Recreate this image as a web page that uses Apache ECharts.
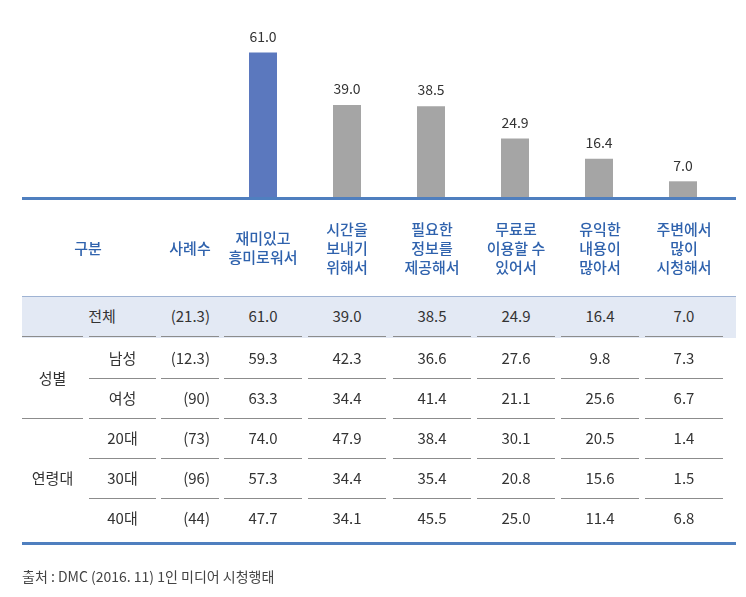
<!DOCTYPE html>
<html><head><meta charset="utf-8">
<script src="https://cdn.jsdelivr.net/npm/echarts@6/dist/echarts.min.js"></script>
<style>
body{margin:0;background:#fff;font-family:"Noto Sans CJK KR","Noto Sans",sans-serif;}
#c{position:absolute;left:0;top:0;width:746px;height:597px;}
.t{position:absolute;white-space:nowrap;font-size:15px;color:#333;}
.h{color:#2f62ad;font-weight:500;text-align:center;line-height:19px;font-size:15px;}
.ln{position:absolute;height:1px;background:#8c8c8c;}
</style></head><body>
<div id="c"></div><div id="tb"></div>
<script>
const categories=['재미있고\n흥미로워서','시간을\n보내기\n위해서','필요한\n정보를\n제공해서','무료로\n이용할 수\n있어서','유익한\n내용이\n많아서','주변에서\n많이\n시청해서'];
const totalValues=[61.0,39.0,38.5,24.9,16.4,7.0];
const rowGroups=['','성별','성별','연령대','연령대','연령대'];
const rowLabels=['전체','남성','여성','20대','30대','40대'];
const sampleSizes=['(21.3)','(12.3)','(90)','(73)','(96)','(44)'];
const tableValues=[
 [61.0,39.0,38.5,24.9,16.4,7.0],
 [59.3,42.3,36.6,27.6,9.8,7.3],
 [63.3,34.4,41.4,21.1,25.6,6.7],
 [74.0,47.9,38.4,30.1,20.5,1.4],
 [57.3,34.4,35.4,20.8,15.6,1.5],
 [47.7,34.1,45.5,25.0,11.4,6.8]];
const source='출처 : DMC (2016. 11) 1인 미디어 시청행태';

const chart=echarts.init(document.getElementById('c'));
chart.setOption({
 animation:false,
 grid:{left:221,right:21,top:31,bottom:399},
 xAxis:{type:'category',data:categories,axisLine:{show:false},axisTick:{show:false},axisLabel:{show:false}},
 yAxis:{type:'value',min:0,max:70,show:false},
 series:[{type:'bar',barWidth:28,data:totalValues.map((v,i)=>({value:v,itemStyle:{color:i===0?'#5b78be':'#a5a5a5'}})),
  label:{show:true,position:'top',distance:9,formatter:p=>p.value.toFixed(1),color:'#333',fontSize:14,fontFamily:'Noto Sans CJK KR'}}]
});

const tb=document.getElementById('tb');
function add(html){tb.insertAdjacentHTML('beforeend',html);}
const colC=[263,347,432,516,600,684];
const rowTop=[296,338,378,418,458,498],rowH=40;
add(`<div style="position:absolute;left:22px;top:197px;width:714px;height:3px;background:#4f7fbf"></div>`);
add(`<div style="position:absolute;left:22px;top:542px;width:714px;height:3px;background:#4f7fbf"></div>`);
add(`<div style="position:absolute;left:22px;top:297px;width:714px;height:41px;background:#e3e9f4"></div>`);
add(`<div style="position:absolute;left:22px;top:296px;width:714px;height:1px;background:#9fb3d3"></div>`);
const hdr=[['구분',88],['사례수',190]];
hdr.forEach(([t,x])=>add(`<div class="t h" style="left:${x-40}px;width:80px;top:238px">${t}</div>`));
categories.forEach((c,i)=>{const n=c.split('\n').length;const top=247-n*19/2;
 add(`<div class="t h" style="left:${colC[i]-42}px;width:84px;top:${top}px">${c.replace(/\n/g,'<br>')}</div>`);});
const segs=[[22,83],[89,156],[161,219]].concat(colC.map(c=>[c-39,c+39]));
rowLabels.forEach((r,k)=>{
 const cy=rowTop[k]+rowH/2-11;
 if(k===0) add(`<div class="t" style="left:22px;width:160px;text-align:center;top:${cy}px">${r}</div>`);
 else add(`<div class="t" style="left:89px;width:67px;text-align:center;top:${cy}px">${r}</div>`);
 add(`<div class="t" style="left:150px;width:60px;text-align:right;top:${cy}px">${sampleSizes[k]}</div>`);
 tableValues[k].forEach((v,i)=>add(`<div class="t" style="left:${colC[i]-40}px;width:80px;text-align:center;top:${cy}px">${v.toFixed(1)}</div>`));
 if(k<5){const y=rowTop[k]+rowH;const grpEnd=(k===0||k===2);
  segs.forEach((s,j)=>{if(j===0&&!grpEnd)return;add(`<div class="ln" style="left:${s[0]}px;width:${s[1]-s[0]}px;top:${y}px"></div>`);});}
});
[['성별',1,2],['연령대',3,5]].forEach(([g,a,b])=>{const cy=(rowTop[a]+rowTop[b]+rowH)/2-11;
 add(`<div class="t" style="left:22px;width:61px;text-align:center;top:${cy}px">${g}</div>`);});
add(`<div class="t" style="left:22px;top:566px;font-size:14px;color:#444">${source}</div>`);
</script></body></html>
